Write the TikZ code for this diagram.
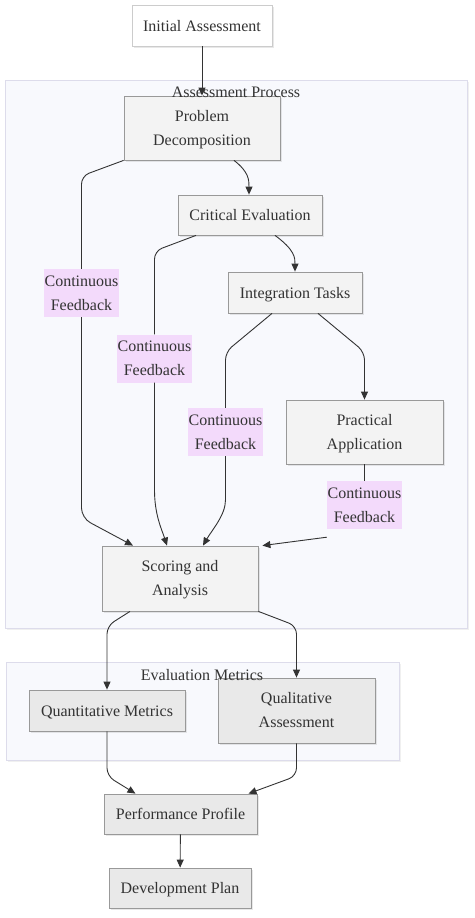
\documentclass[tikz,border=0pt]{standalone}
\usepackage{fontspec}
\setmainfont{Liberation Serif}
\usetikzlibrary{arrows.meta,shadows}
\definecolor{edgec}{HTML}{333333}
\definecolor{txtc}{HTML}{333333}
\definecolor{boxfill}{HTML}{F3F3F3}
\definecolor{boxfilltwo}{HTML}{E9E9E9}
\definecolor{boxline}{HTML}{999999}
\definecolor{clfill}{HTML}{F8F9FD}
\definecolor{clline}{HTML}{DDDCEB}
\definecolor{lblfill}{HTML}{F3DAFB}
\begin{document}
\begin{tikzpicture}[x=1pt,y=-1pt,
  every node/.style={text=txtc, font=\fontsize{16}{24}\selectfont, align=center, inner sep=0pt},
  oneline/.style={text height=15pt, text depth=4pt},
  twoline/.style={text height=38pt, text depth=4pt},
  procbox/.style={draw=boxline, fill=boxfill, line width=0.8pt, drop shadow={opacity=0.18, shadow xshift=1.5pt, shadow yshift=-1.5pt}},
  metbox/.style={procbox, fill=boxfilltwo},
  startbox/.style={procbox, draw=black!20, fill=white},
  cluster/.style={draw=clline, fill=clfill, line width=0.8pt, drop shadow={opacity=0.12, shadow xshift=1.5pt, shadow yshift=-1.5pt}},
  fb/.style={fill=lblfill, minimum width=75pt, minimum height=48pt},
  conn/.style={draw=edgec, line width=0.9pt},
  arr/.style={conn, -{Triangle[length=8pt,width=7pt]}},
]
\useasboundingbox (0,0) rectangle (474,918);
% clusters
\path[cluster] (5,80) rectangle (467,628);
\path[cluster] (6,662) rectangle (399,760);
% nodes
\node[startbox, oneline, minimum width=140pt, minimum height=41pt] (init) at (202,25.5) {Initial Assessment};
\node[procbox, twoline, minimum width=156pt, minimum height=64pt] (pd) at (202,128) {Problem\\Decomposition};
\node[procbox, oneline, minimum width=144pt, minimum height=40pt] (ce) at (250,215) {Critical Evaluation};
\node[procbox, oneline, minimum width=134pt, minimum height=41pt] (it) at (295,292.5) {Integration Tasks};
\node[procbox, twoline, minimum width=157pt, minimum height=64pt] (pa) at (364.5,432) {Practical\\Application};
\node[procbox, twoline, minimum width=156pt, minimum height=65pt] (sa) at (180,578.5) {Scoring and\\Analysis};
\node[metbox, oneline, minimum width=156pt, minimum height=41pt] (qm) at (107,710.5) {Quantitative Metrics};
\node[metbox, twoline, minimum width=157pt, minimum height=65pt] (qa) at (296.5,710.5) {Qualitative\\Assessment};
\node[metbox, oneline, minimum width=153pt, minimum height=40pt] (pp) at (180.5,814) {Performance Profile};
\node[metbox, oneline, minimum width=142pt, minimum height=40pt] (dp) at (180,888) {Development Plan};
% cluster titles
\node[oneline] (t1) at (236,92) {Assessment Process};
\node[oneline] (t2) at (202,675) {Evaluation Metrics};
% edges
\draw[arr] (init) -- (pd);
\draw[arr] ([xshift=32pt]pd.south) .. controls (249,172) and (249,180) .. ([xshift=-1pt]ce.north);
\draw[arr] ([xshift=25pt]ce.south) .. controls (295,250) and (295,258) .. (it.north);
\draw[arr, rounded corners=8pt] ([xshift=23pt]it.south) -- (364.5,352) -- (pa.north);
% feedback labels
\node[fb] (cf1) at (81.5,293) {Continuous\\Feedback};
\node[fb] (cf2) at (154.5,358.5) {Continuous\\Feedback};
\node[fb] (cf3) at (225.5,432) {Continuous\\Feedback};
\node[fb] (cf4) at (364.5,505) {Continuous\\Feedback};
\draw[conn, rounded corners=8pt] (pd.south west) -- (81.5,176) -- (cf1.north);
\draw[arr, rounded corners=10pt] (cf1.south) -- (81.5,518) -- ([xshift=-47pt]sa.north);
\draw[conn, rounded corners=8pt] ([xshift=-54pt]ce.south) -- (154.5,251) -- (cf2.north);
\draw[arr] (cf2.south) -- (154.5,490) .. controls (154.5,515) and (162,530) .. ([xshift=-13pt]sa.north);
\draw[conn, rounded corners=8pt] ([xshift=-23pt]it.south) -- (225.5,352) -- (cf3.north);
\draw[arr] (cf3.south) -- (225.5,500) .. controls (225.5,515) and (212,530) .. ([xshift=23pt]sa.north);
\draw[conn] (pa.south) -- (cf4.north);
\draw[arr] ([yshift=-8pt]cf4.south west) -- ([xshift=4pt]sa.north east);
\draw[arr, rounded corners=8pt] ([xshift=-50pt]sa.south) -- (107,626) -- (qm.north);
\draw[arr, rounded corners=8pt] (sa.south east) -- (296.5,626) -- (qa.north);
\draw[arr, rounded corners=8pt] (qm.south) -- (107,776) -- ([xshift=-45pt]pp.north);
\draw[arr, rounded corners=8pt] (qa.south) -- (296.5,776) -- ([xshift=68pt]pp.north);
\draw[arr] (pp) -- (dp);
\end{tikzpicture}
\end{document}
